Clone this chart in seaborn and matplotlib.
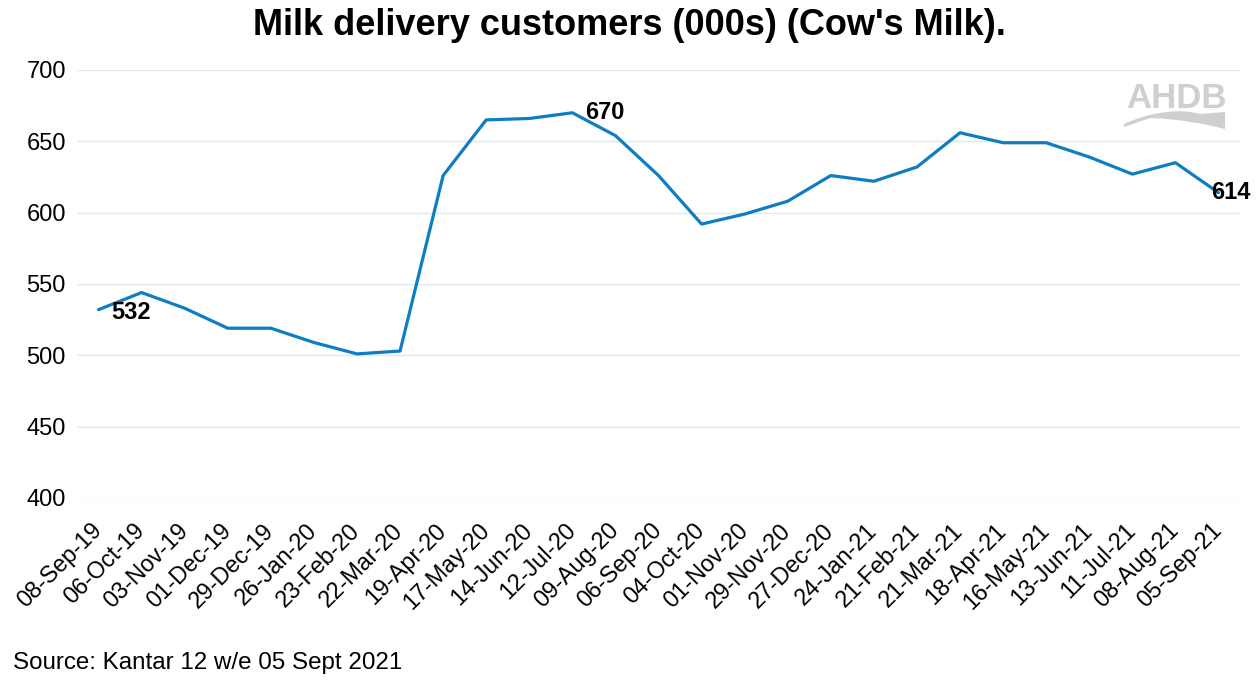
import numpy as np
import pandas as pd
import matplotlib
matplotlib.use("Agg")
import matplotlib.pyplot as plt
import matplotlib.transforms as mtransforms
import seaborn as sns
from matplotlib.patches import PathPatch
from matplotlib.path import Path

dates = ["08-Sep-19", "06-Oct-19", "03-Nov-19", "01-Dec-19", "29-Dec-19", "26-Jan-20",
         "23-Feb-20", "22-Mar-20", "19-Apr-20", "17-May-20", "14-Jun-20", "12-Jul-20",
         "09-Aug-20", "06-Sep-20", "04-Oct-20", "01-Nov-20", "29-Nov-20", "27-Dec-20",
         "24-Jan-21", "21-Feb-21", "21-Mar-21", "18-Apr-21", "16-May-21", "13-Jun-21",
         "11-Jul-21", "08-Aug-21", "05-Sep-21"]
customers = [532, 544, 533, 519, 519, 509, 501, 503, 626, 665, 666, 670,
             654, 626, 592, 599, 608, 626, 622, 632, 656, 649, 649, 639,
             627, 635, 614]
yticks = [400, 450, 500, 550, 600, 650, 700]
labelled = {0: "532", 11: "670", 26: "614"}

sns.set_theme(style="white")
plt.rcParams['font.family'] = ['Liberation Sans', 'DejaVu Sans']

df = pd.DataFrame({"pos": np.arange(len(dates)), "value": customers})

fig = plt.figure(figsize=(12.58, 6.82), dpi=100)
ax = fig.add_axes([0.0612, 0.2698, 0.9245, 0.6276])

for y in yticks:
    ax.axhline(y, color="#DCE9EF", lw=1.0, zorder=0)

sns.lineplot(data=df, x="pos", y="value", ax=ax, color="#0F7DC2", linewidth=2.3, zorder=3)

ax.set_xlim(-0.5, len(dates) - 0.5)
ax.set_ylim(400, 700)
ax.set_yticks(yticks)
ax.set_yticklabels([str(v) for v in yticks], fontsize=17, color="black")
ax.set_xticks(np.arange(len(dates)))
ax.set_xticklabels(dates, rotation=45, ha="right", rotation_mode="anchor",
                   fontsize=16.8, color="black")
ax.tick_params(axis="y", length=0, pad=8)
ax.tick_params(axis="x", length=0, pad=15)
shift = mtransforms.ScaledTranslation(-6 / 72, 0, fig.dpi_scale_trans)
for lbl in ax.get_xticklabels():
    lbl.set_transform(lbl.get_transform() + shift)
ax.set_xlabel("")
ax.set_ylabel("")
for s in ax.spines.values():
    s.set_visible(False)

# data labels
ax.annotate(labelled[0], (0, customers[0]), xytext=(9, -2), textcoords="offset points",
            ha="left", va="center", fontsize=17, fontweight="bold", color="black", zorder=5)
ax.annotate(labelled[11], (11, customers[11]), xytext=(9, 0), textcoords="offset points",
            ha="left", va="center", fontsize=17, fontweight="bold", color="black", zorder=5)
ax.annotate(labelled[26], (26, customers[26]), xytext=(-5, 0), textcoords="offset points",
            ha="left", va="center", fontsize=17, fontweight="bold", color="black", zorder=5,
            annotation_clip=False)

fig.text(0.5, 0.962, "Milk delivery customers (000s) (Cow's Milk).", ha="center", va="center",
         fontsize=26, fontweight="bold", color="black")
fig.text(0.010, 0.028, "Source: Kantar 12 w/e 05 Sept 2021", ha="left", va="center",
         fontsize=17.4, color="black")

# AHDB logo (decorative)
fig.text(0.935, 0.855, "AHDB", ha="center", va="center", fontsize=25, color="#CFCFCF",
         fontweight="bold")
W, H = 1258.0, 682.0
pts = [(1124, 124), (1150, 112), (1180, 108), (1200, 114), (1225, 112),
       (1225, 129), (1205, 124), (1180, 119), (1150, 118), (1124, 127), (1124, 124)]
verts = [(x / W, 1 - y / H) for x, y in pts]
codes = [Path.MOVETO, Path.CURVE4, Path.CURVE4, Path.CURVE4, Path.LINETO,
         Path.LINETO, Path.CURVE4, Path.CURVE4, Path.CURVE4, Path.LINETO, Path.CLOSEPOLY]
fig.patches.append(PathPatch(Path(verts, codes), transform=fig.transFigure,
                             facecolor="#CFCFCF", edgecolor="none"))

fig.savefig("out.png", dpi=100, facecolor="white")
